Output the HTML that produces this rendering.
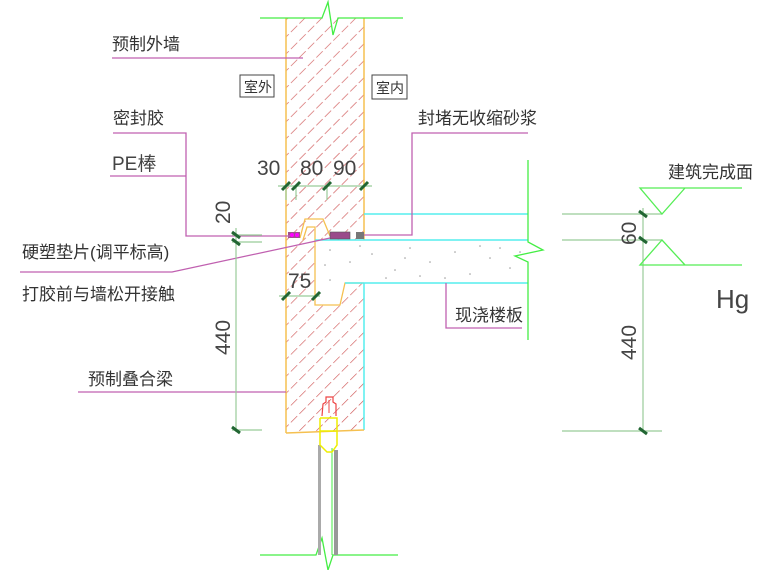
<!DOCTYPE html>
<html><head><meta charset="utf-8"><style>
html,body{margin:0;padding:0;background:#fff;}
svg{display:block;}
text{font-family:"Liberation Sans","Noto Sans CJK SC",sans-serif;fill:#333;}
.cn{font-size:17px;}
.num{font-size:21px;fill:#444;}
</style></head><body>
<svg width="760" height="570" viewBox="0 0 760 570" xmlns="http://www.w3.org/2000/svg">
<defs>
<pattern id="hatch" width="12" height="12" patternUnits="userSpaceOnUse" patternTransform="rotate(45)">
<line x1="0" y1="0" x2="0" y2="12" stroke="#d05858" stroke-width="1.3" stroke-dasharray="9,3"/>
</pattern>
</defs>
<polygon points="286,18 364,18 364,430 286,433" fill="url(#hatch)"/>
<line x1="286" y1="18" x2="286" y2="433" stroke="#f5c050" stroke-width="1.5"/>
<line x1="364" y1="18" x2="364" y2="283" stroke="#f5c050" stroke-width="1.5"/>
<line x1="364" y1="283" x2="364" y2="430" stroke="#5ee" stroke-width="1.5"/>
<line x1="286" y1="433" x2="364" y2="430" stroke="#f5c050" stroke-width="1.5"/>
<polygon points="316,240 528,240 528,283 345,283 340,305 316,305" fill="#fff"/>
<g fill="#999">
<circle cx="330" cy="250" r="0.8"/><circle cx="350" cy="262" r="0.8"/><circle cx="372" cy="254" r="0.8"/><circle cx="395" cy="270" r="0.8"/><circle cx="410" cy="248" r="0.8"/><circle cx="430" cy="262" r="0.8"/><circle cx="455" cy="252" r="0.8"/><circle cx="470" cy="274" r="0.8"/><circle cx="490" cy="258" r="0.8"/><circle cx="510" cy="268" r="0.8"/><circle cx="330" cy="280" r="0.8"/><circle cx="386" cy="278" r="0.8"/><circle cx="445" cy="278" r="0.8"/><circle cx="500" cy="248" r="0.8"/><circle cx="420" cy="276" r="0.8"/><circle cx="360" cy="246" r="0.8"/><circle cx="480" cy="246" r="0.8"/><circle cx="520" cy="252" r="0.8"/><circle cx="325" cy="265" r="0.8"/><circle cx="405" cy="258" r="0.8"/>
</g>
<polyline points="300,238 305,219 323,219 330,236" fill="none" stroke="#f5c050" stroke-width="1.3"/>
<polyline points="303,240 307,227 315,227 315,305 340,305 345,283 364,283" fill="none" stroke="#f5c050" stroke-width="1.3"/>
<line x1="364" y1="214" x2="528" y2="214" stroke="#5ee" stroke-width="1.5"/>
<line x1="315" y1="240" x2="528" y2="240" stroke="#5ee" stroke-width="1.5"/>
<line x1="345" y1="283" x2="528" y2="283" stroke="#5ee" stroke-width="1.5"/>
<polyline points="528,160 528,242 543,250 515,256 528,262 528,340" fill="none" stroke="#4e4" stroke-width="1.3"/>
<rect x="288" y="232" width="12" height="6" fill="#a05090"/>
<circle cx="292" cy="235" r="2" fill="#f0f"/><circle cx="297" cy="235" r="2" fill="#f0f"/>
<rect x="330" y="232" width="20" height="7" fill="#9a4a8a" stroke="#555" stroke-width="0.6"/>
<rect x="356" y="232" width="8" height="7" fill="#777"/>
<polyline points="260,18 322,18 328,2 333,35 338,18 403,18" fill="none" stroke="#4e4" stroke-width="1.3"/>
<polyline points="260,555 316,555 322,538 328,570 333,555 398,555" fill="none" stroke="#4e4" stroke-width="1.3"/>
<rect x="318" y="445" width="3" height="110" fill="#aaa"/>
<rect x="334" y="450" width="4" height="105" fill="#999"/>
<line x1="332" y1="448" x2="332" y2="555" stroke="#4e4" stroke-width="1"/>
<polyline points="320,418 337,418 337,445 332,452 327,452 320,445 320,418" fill="none" stroke="#ee0" stroke-width="1.5"/>
<line x1="320" y1="431" x2="337" y2="431" stroke="#ee0" stroke-width="1.5"/>
<polyline points="322,416 323,404 326,402 326,397 333,397 333,402 336,404 336,416" fill="none" stroke="#e44" stroke-width="1.2"/>
<line x1="329" y1="400" x2="329" y2="413" stroke="#e44" stroke-width="1"/>
<rect x="240" y="75" width="34" height="22" fill="#fff" stroke="#444"/>
<text x="244" y="92" class="cn" style="font-size:14px">室外</text>
<rect x="372" y="75" width="35" height="24" fill="#fff" stroke="#444"/>
<text x="376" y="93" class="cn" style="font-size:14px">室内</text>
<g stroke="#c060b0" stroke-width="1.3" fill="none">
<line x1="112" y1="58" x2="303" y2="58"/>
<polyline points="113,133 186,133 186,236 290,236"/>
<line x1="110" y1="176" x2="186" y2="176"/>
<polyline points="20,272 172,272 330,238"/>
<polyline points="78,392 286,392"/>
<polyline points="528,133 412,133 412,235 364,235"/>
<polyline points="446,283 446,328 522,328"/>
</g>
<text x="112" y="50" class="cn">预制外墙</text>
<text x="113" y="124" class="cn">密封胶</text>
<text x="112" y="170" class="num" style="font-size:19px">PE棒</text>
<text x="418" y="124" class="cn">封堵无收缩砂浆</text>
<text x="22" y="258" class="cn">硬塑垫片(调平标高)</text>
<text x="22" y="300" class="cn">打胶前与墙松开接触</text>
<text x="88" y="385" class="cn">预制叠合梁</text>
<text x="455" y="321" class="cn">现浇楼板</text>
<text x="668" y="178" class="cn">建筑完成面</text>
<text x="716" y="308" class="num" style="font-size:26px">Hg</text>
<g stroke="#9c9" stroke-width="1.2" fill="none">
<line x1="278" y1="186" x2="372" y2="186"/>
<line x1="286" y1="186" x2="286" y2="200"/><line x1="296" y1="186" x2="296" y2="200"/>
<line x1="327" y1="186" x2="327" y2="200"/>
<line x1="236" y1="228" x2="236" y2="432"/>
<line x1="232" y1="235" x2="262" y2="235"/><line x1="232" y1="242" x2="262" y2="242"/>
<line x1="232" y1="430" x2="262" y2="430"/>
<line x1="279" y1="296" x2="320" y2="296"/>
<line x1="643" y1="208" x2="643" y2="432"/>
<line x1="562" y1="214" x2="662" y2="214"/><line x1="562" y1="240" x2="662" y2="240"/>
<line x1="562" y1="431" x2="662" y2="431"/>
</g>
<g stroke="#263" stroke-width="3">
<line x1="282" y1="190" x2="290" y2="182"/><line x1="292" y1="190" x2="300" y2="182"/>
<line x1="323" y1="190" x2="331" y2="182"/><line x1="360" y1="190" x2="368" y2="182"/>
<line x1="232" y1="232" x2="240" y2="238"/><line x1="232" y1="239" x2="240" y2="245"/>
<line x1="232" y1="427" x2="240" y2="433"/>
<line x1="282" y1="300" x2="290" y2="292"/><line x1="312" y1="300" x2="320" y2="292"/>
<line x1="639" y1="211" x2="647" y2="217"/><line x1="639" y1="237" x2="647" y2="243"/>
<line x1="639" y1="428" x2="647" y2="434"/>
</g>
<g stroke="#5e5" stroke-width="1.3" fill="none">
<polyline points="742,188 640,188 662,214 685,188"/>
<polyline points="742,265 640,265 662,240 685,265"/>
</g>
<text x="257" y="175" class="num">30</text>
<text x="300" y="175" class="num">80</text>
<text x="333" y="175" class="num">90</text>
<text x="288" y="288" class="num">75</text>
<text transform="translate(230,224) rotate(-90)" class="num">20</text>
<text transform="translate(230,355) rotate(-90)" class="num">440</text>
<text transform="translate(636,245) rotate(-90)" class="num">60</text>
<text transform="translate(636,360) rotate(-90)" class="num">440</text>
</svg>
</body></html>
